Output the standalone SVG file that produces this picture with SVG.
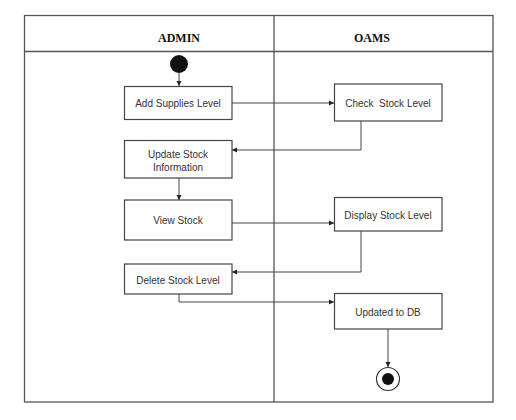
<svg xmlns="http://www.w3.org/2000/svg" width="516" height="420" viewBox="0 0 516 420">
<style>
.frame{fill:none;stroke:#555;stroke-width:1.3}
.box{fill:#fff;stroke:#444;stroke-width:1.2}
.t{font-family:"Liberation Sans",Arial,sans-serif;font-size:10px;fill:#333;text-anchor:middle}
.h{font-family:"Liberation Serif","Times New Roman",serif;font-size:12px;font-weight:bold;fill:#111;text-anchor:middle}
.c{fill:none;stroke:#444;stroke-width:1}
</style>
<defs>
<marker id="a" markerWidth="6" markerHeight="6" refX="5" refY="3" orient="auto" markerUnits="userSpaceOnUse">
<path d="M0,0.5 L5,3 L0,5.5 Z" fill="#222"/>
</marker>
</defs>
<rect width="516" height="420" fill="#fff"/>
<g id="lanes">
<rect class="frame" x="24.5" y="15.5" width="468.5" height="386.5"/>
<line class="frame" x1="24.5" y1="51.5" x2="493" y2="51.5"/>
<line class="frame" x1="274" y1="15.5" x2="274" y2="402"/>
<text class="h" x="179" y="42">ADMIN</text>
<text class="h" x="372" y="42">OAMS</text>
</g>
<g id="connectors">
<line class="c" x1="179" y1="72" x2="179" y2="86" marker-end="url(#a)"/>
<line class="c" x1="232" y1="103" x2="334" y2="103" marker-end="url(#a)"/>
<polyline class="c" points="361,121 361,150 232,150" marker-end="url(#a)"/>
<line class="c" x1="179" y1="178" x2="179" y2="200" marker-end="url(#a)"/>
<line class="c" x1="232" y1="223" x2="334" y2="223" marker-end="url(#a)"/>
<polyline class="c" points="361,231 361,272 232,272" marker-end="url(#a)"/>
<polyline class="c" points="179,294 179,302 334,302" marker-end="url(#a)"/>
<line class="c" x1="388" y1="329" x2="388" y2="367" marker-end="url(#a)"/>
</g>
<g id="start"><circle cx="179" cy="64" r="9" fill="#111"/></g>
<g id="add"><rect class="box" x="124.5" y="86.5" width="107.5" height="33"/><text class="t" x="178" y="107">Add Supplies Level</text></g>
<g id="check"><rect class="box" x="334.5" y="84" width="107.5" height="37"/><text class="t" x="388" y="107" style="white-space:pre">Check  Stock Level</text></g>
<g id="update"><rect class="box" x="124.5" y="140.5" width="107.5" height="37.5"/><text class="t" x="178" y="158">Update Stock</text><text class="t" x="178" y="170.5">Information</text></g>
<g id="view"><rect class="box" x="124.5" y="200" width="107.5" height="40"/><text class="t" x="178" y="224">View Stock</text></g>
<g id="display"><rect class="box" x="334.5" y="197.5" width="107.5" height="33.5"/><text class="t" x="388" y="218.5">Display Stock Level</text></g>
<g id="delete"><rect class="box" x="124.5" y="264" width="107.5" height="30"/><text class="t" x="178" y="283.5">Delete Stock Level</text></g>
<g id="db"><rect class="box" x="334.5" y="293.5" width="107.5" height="35.5"/><text class="t" x="388" y="315.5">Updated to DB</text></g>
<g id="end"><circle cx="388" cy="379" r="11.5" fill="#fff" stroke="#333" stroke-width="1.2"/><circle cx="388" cy="379" r="6" fill="#111"/></g>
</svg>
